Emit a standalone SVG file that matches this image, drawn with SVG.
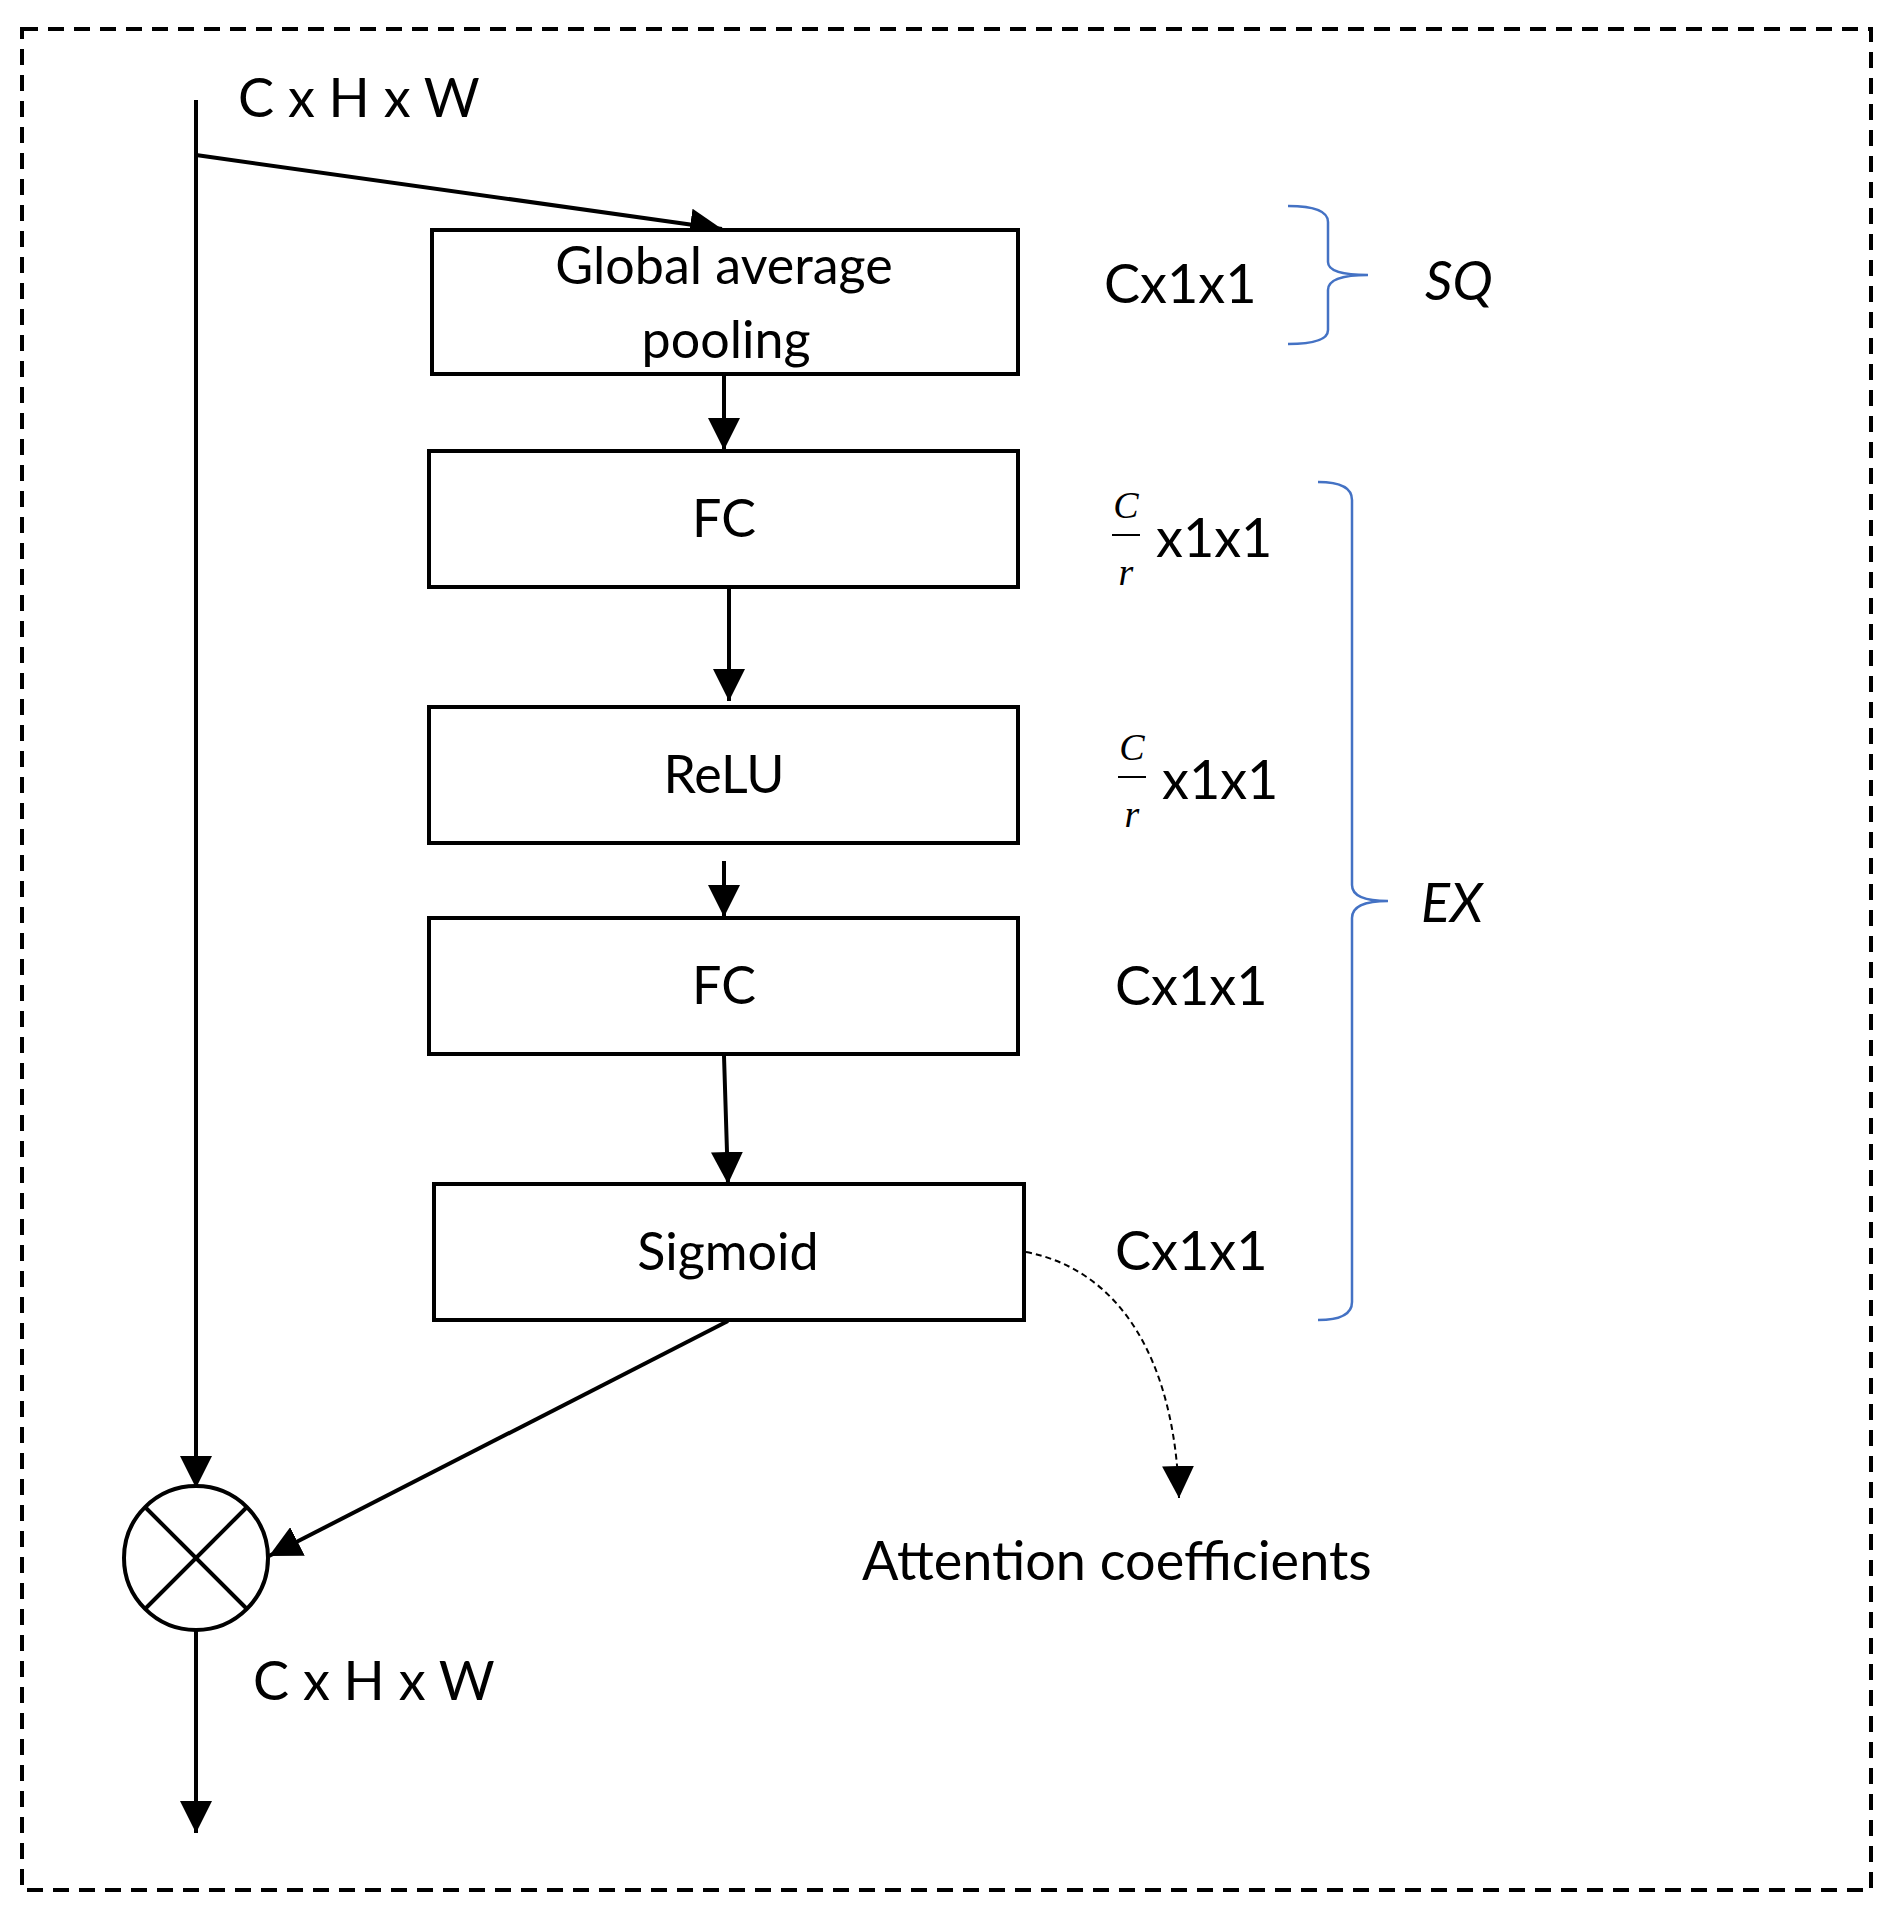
<svg xmlns="http://www.w3.org/2000/svg" width="1896" height="1911" viewBox="0 0 1896 1911">
<style>
.b{fill:#fff;stroke:#000;stroke-width:4}
.t{font-family:Lato,"Open Sans",sans-serif;font-size:52px;fill:#000;text-anchor:middle}
.l{font-family:Lato,"Open Sans",sans-serif;font-size:54px;fill:#000}
.m{font-family:"Liberation Serif",serif;font-style:italic;font-size:38px;fill:#000;text-anchor:middle}
.c{stroke:#000;stroke-width:4;fill:none}
.br{stroke:#4472C4;stroke-width:2.5;fill:none}
</style>
<defs>
<marker id="a" viewBox="0 0 10 10" refX="10" refY="5" markerWidth="8" markerHeight="8" markerUnits="userSpaceOnUse" orient="auto" style="overflow:visible">
<path d="M0,0 L10,5 L0,10 z" fill="#000" transform="scale(3.2) translate(-0,-0)"/>
</marker>
<marker id="h" viewBox="0 0 32 32" refX="32" refY="16" markerWidth="32" markerHeight="32" markerUnits="userSpaceOnUse" orient="auto">
<path d="M0,0 L32,16 L0,32 z" fill="#000"/>
</marker>
</defs>
<rect x="22" y="29" width="1849" height="1861" fill="none" stroke="#000" stroke-width="4" stroke-dasharray="16,10"/>
<g id="connectors">
<line class="c" x1="196" y1="100" x2="196" y2="1488" marker-end="url(#h)"/>
<line class="c" x1="196" y1="155" x2="722" y2="229" marker-end="url(#h)"/>
<line class="c" x1="724" y1="376" x2="724" y2="450" marker-end="url(#h)"/>
<line class="c" x1="729" y1="589" x2="729" y2="701" marker-end="url(#h)"/>
<line class="c" x1="724" y1="861" x2="724" y2="917" marker-end="url(#h)"/>
<line class="c" x1="724" y1="1056" x2="728" y2="1184" marker-end="url(#h)"/>
<line class="c" x1="728" y1="1321" x2="269" y2="1556" marker-end="url(#h)"/>
<line class="c" x1="196" y1="1630" x2="196" y2="1833" marker-end="url(#h)"/>
<path d="M1026,1252 C1120,1270 1175,1360 1179,1498" stroke="#000" stroke-width="2" fill="none" stroke-dasharray="6,4" marker-end="url(#h)"/>
</g>
<g id="gap"><rect class="b" x="432" y="230" width="586" height="144"/>
<text class="t" x="724" y="284">Global average</text><text class="t" x="726" y="358">pooling</text></g>
<g id="fc1"><rect class="b" x="429" y="451" width="589" height="136"/><text class="t" x="724" y="537">FC</text></g>
<g id="relu"><rect class="b" x="429" y="707" width="589" height="136"/><text class="t" x="724" y="793">ReLU</text></g>
<g id="fc2"><rect class="b" x="429" y="918" width="589" height="136"/><text class="t" x="724" y="1004">FC</text></g>
<g id="sigmoid"><rect class="b" x="434" y="1184" width="590" height="136"/><text class="t" x="728" y="1270">Sigmoid</text></g>
<g id="mult"><circle cx="196" cy="1558" r="72" fill="#fff" stroke="#000" stroke-width="4"/>
<line class="c" x1="145" y1="1507" x2="247" y2="1609"/><line class="c" x1="247" y1="1507" x2="145" y2="1609"/></g>
<g id="labels">
<text class="l" x="238" y="117">C x H x W</text>
<text class="l" x="253" y="1700">C x H x W</text>
<text class="l" x="1104" y="303">Cx1x1</text>
<text class="m" x="1126" y="518">C</text><line x1="1112" y1="535" x2="1140" y2="535" stroke="#000" stroke-width="2"/><text class="m" x="1126" y="585">r</text>
<text class="l" x="1156" y="557">x1x1</text>
<text class="m" x="1132" y="760">C</text><line x1="1118" y1="777" x2="1146" y2="777" stroke="#000" stroke-width="2"/><text class="m" x="1132" y="827">r</text>
<text class="l" x="1162" y="799">x1x1</text>
<text class="l" x="1115" y="1005">Cx1x1</text>
<text class="l" x="1115" y="1270">Cx1x1</text>
<text class="l" x="862" y="1580">Attention coefficients</text>
<text class="l" x="1425" y="300" font-style="italic">SQ</text>
<text class="l" x="1421" y="922" font-style="italic">EX</text>
</g>
<g id="braces">
<path class="br" d="M1288,206 Q1328,206 1328,222 L1328,262 Q1328,275 1368,275 Q1328,275 1328,290 L1328,330 Q1328,344 1288,344"/>
<path class="br" d="M1318,482 Q1352,482 1352,500 L1352,885 Q1352,901 1388,901 Q1352,901 1352,918 L1352,1302 Q1352,1320 1318,1320"/>
</g>
</svg>
